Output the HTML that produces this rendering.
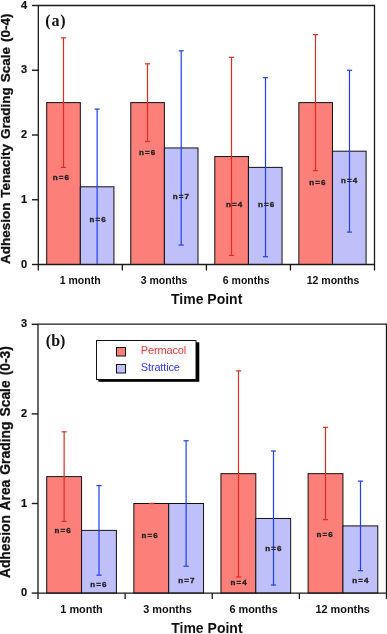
<!DOCTYPE html>
<html><head><meta charset="utf-8"><style>
html,body{margin:0;padding:0;background:#fff;}
body{width:387px;height:634px;overflow:hidden;}
svg{display:block;}
text{font-family:"Liberation Sans",Arial,sans-serif;fill:#111;}
.n{font-size:8px;font-weight:bold;text-anchor:middle;letter-spacing:1.1px;fill:#222;stroke:#222;stroke-width:0.35px;}
.yt{font-size:11px;font-weight:bold;text-anchor:end;stroke:#111;stroke-width:0.2px;}
.xl{font-size:10.2px;font-weight:bold;text-anchor:middle;}
.tt{font-size:14px;font-weight:bold;text-anchor:middle;}
.yti{font-size:13.6px;font-weight:bold;text-anchor:middle;word-spacing:1.2px;stroke:#111;stroke-width:0.3px;}
.pl{font-family:"Liberation Serif","Times New Roman",serif;font-size:16px;font-weight:bold;}
.lg{font-size:11px;letter-spacing:-0.15px;}
</style></head><body>
<svg width="387" height="634" viewBox="0 0 387 634">
<rect x="46.70" y="102.62" width="33.62" height="161.88" fill="#fc8079" stroke="#111" stroke-width="1"/>
<rect x="80.32" y="186.80" width="33.62" height="77.70" fill="#bfbff9" stroke="#111" stroke-width="1"/>
<rect x="130.75" y="102.62" width="33.62" height="161.88" fill="#fc8079" stroke="#111" stroke-width="1"/>
<rect x="164.38" y="147.95" width="33.62" height="116.55" fill="#bfbff9" stroke="#111" stroke-width="1"/>
<rect x="214.80" y="156.56" width="33.62" height="107.94" fill="#fc8079" stroke="#111" stroke-width="1"/>
<rect x="248.42" y="167.38" width="33.62" height="97.12" fill="#bfbff9" stroke="#111" stroke-width="1"/>
<rect x="298.85" y="102.62" width="33.62" height="161.88" fill="#fc8079" stroke="#111" stroke-width="1"/>
<rect x="332.47" y="151.19" width="33.62" height="113.31" fill="#bfbff9" stroke="#111" stroke-width="1"/>
<line x1="63.50" x2="63.50" y1="167.38" y2="37.88" stroke="#e02a22" stroke-width="1.2"/>
<line x1="60.90" x2="66.10" y1="167.38" y2="167.38" stroke="#e02a22" stroke-width="1.2"/>
<line x1="60.90" x2="66.10" y1="37.88" y2="37.88" stroke="#e02a22" stroke-width="1.2"/>
<line x1="97.13" x2="97.13" y1="264.50" y2="109.10" stroke="#2040f0" stroke-width="1.2"/>
<line x1="94.53" x2="99.73" y1="109.10" y2="109.10" stroke="#2040f0" stroke-width="1.2"/>
<line x1="147.50" x2="147.50" y1="141.48" y2="63.78" stroke="#e02a22" stroke-width="1.2"/>
<line x1="144.90" x2="150.10" y1="141.48" y2="141.48" stroke="#e02a22" stroke-width="1.2"/>
<line x1="144.90" x2="150.10" y1="63.78" y2="63.78" stroke="#e02a22" stroke-width="1.2"/>
<line x1="181.19" x2="181.19" y1="245.07" y2="50.83" stroke="#2040f0" stroke-width="1.2"/>
<line x1="178.59" x2="183.78" y1="245.07" y2="245.07" stroke="#2040f0" stroke-width="1.2"/>
<line x1="178.59" x2="183.78" y1="50.83" y2="50.83" stroke="#2040f0" stroke-width="1.2"/>
<line x1="231.50" x2="231.50" y1="255.44" y2="57.30" stroke="#e02a22" stroke-width="1.2"/>
<line x1="228.90" x2="234.10" y1="255.44" y2="255.44" stroke="#e02a22" stroke-width="1.2"/>
<line x1="228.90" x2="234.10" y1="57.30" y2="57.30" stroke="#e02a22" stroke-width="1.2"/>
<line x1="265.50" x2="265.50" y1="256.73" y2="77.70" stroke="#2040f0" stroke-width="1.2"/>
<line x1="262.90" x2="268.10" y1="256.73" y2="256.73" stroke="#2040f0" stroke-width="1.2"/>
<line x1="262.90" x2="268.10" y1="77.70" y2="77.70" stroke="#2040f0" stroke-width="1.2"/>
<line x1="315.50" x2="315.50" y1="170.61" y2="34.64" stroke="#e02a22" stroke-width="1.2"/>
<line x1="312.90" x2="318.10" y1="170.61" y2="170.61" stroke="#e02a22" stroke-width="1.2"/>
<line x1="312.90" x2="318.10" y1="34.64" y2="34.64" stroke="#e02a22" stroke-width="1.2"/>
<line x1="349.50" x2="349.50" y1="232.12" y2="70.25" stroke="#2040f0" stroke-width="1.2"/>
<line x1="346.90" x2="352.10" y1="232.12" y2="232.12" stroke="#2040f0" stroke-width="1.2"/>
<line x1="346.90" x2="352.10" y1="70.25" y2="70.25" stroke="#2040f0" stroke-width="1.2"/>
<text x="61.50" y="179.90" class="n">n=6</text>
<text x="98.20" y="222.20" class="n">n=6</text>
<text x="147.60" y="154.70" class="n">n=6</text>
<text x="181.50" y="198.60" class="n">n=7</text>
<text x="234.60" y="207.30" class="n">n=4</text>
<text x="266.60" y="207.30" class="n">n=6</text>
<text x="318.00" y="184.90" class="n">n=6</text>
<text x="349.60" y="183.40" class="n">n=4</text>
<path d="M38.3 5.5H374.5V264.5H38.3Z" fill="none" stroke="#1a1a1a" stroke-width="1.3"/>
<line x1="31.999999999999996" x2="38.3" y1="264.50" y2="264.50" stroke="#1a1a1a" stroke-width="1.4"/>
<text x="27.2" y="267.50" class="yt">0</text>
<line x1="31.999999999999996" x2="38.3" y1="199.75" y2="199.75" stroke="#1a1a1a" stroke-width="1.4"/>
<text x="27.2" y="202.75" class="yt">1</text>
<line x1="31.999999999999996" x2="38.3" y1="135.00" y2="135.00" stroke="#1a1a1a" stroke-width="1.4"/>
<text x="27.2" y="138.00" class="yt">2</text>
<line x1="31.999999999999996" x2="38.3" y1="70.25" y2="70.25" stroke="#1a1a1a" stroke-width="1.4"/>
<text x="27.2" y="73.25" class="yt">3</text>
<line x1="31.999999999999996" x2="38.3" y1="5.50" y2="5.50" stroke="#1a1a1a" stroke-width="1.4"/>
<text x="27.2" y="8.50" class="yt">4</text>
<line x1="38.30" x2="38.30" y1="264.5" y2="270.5" stroke="#1a1a1a" stroke-width="1.3"/>
<line x1="122.35" x2="122.35" y1="264.5" y2="270.5" stroke="#1a1a1a" stroke-width="1.3"/>
<line x1="206.40" x2="206.40" y1="264.5" y2="270.5" stroke="#1a1a1a" stroke-width="1.3"/>
<line x1="290.45" x2="290.45" y1="264.5" y2="270.5" stroke="#1a1a1a" stroke-width="1.3"/>
<line x1="374.50" x2="374.50" y1="264.5" y2="270.5" stroke="#1a1a1a" stroke-width="1.3"/>
<text x="80.20" y="284.2" class="xl" style="font-size:10.5px">1 month</text>
<text x="164.10" y="284.2" class="xl" style="font-size:10.5px">3 months</text>
<text x="246.20" y="284.2" class="xl" style="font-size:10.5px">6 months</text>
<text x="333.00" y="284.2" class="xl" style="font-size:10.5px">12 months</text>
<text x="206.7" y="304.3" class="tt">Time Point</text>
<text transform="translate(10.3 138.8) rotate(-90)" class="yti" style="font-size:13.5px">Adhesion Tenacity Grading Scale (0-4)</text>
<text x="45.3" y="26.2" class="pl" style="letter-spacing:0.8px">(a)</text>
<rect x="46.71" y="476.62" width="34.85" height="116.48" fill="#fc8079" stroke="#111" stroke-width="1"/>
<rect x="81.56" y="530.38" width="34.85" height="62.72" fill="#bfbff9" stroke="#111" stroke-width="1"/>
<rect x="133.84" y="503.50" width="34.85" height="89.60" fill="#fc8079" stroke="#111" stroke-width="1"/>
<rect x="168.69" y="503.50" width="34.85" height="89.60" fill="#bfbff9" stroke="#111" stroke-width="1"/>
<rect x="220.96" y="473.66" width="34.85" height="119.44" fill="#fc8079" stroke="#111" stroke-width="1"/>
<rect x="255.81" y="518.46" width="34.85" height="74.64" fill="#bfbff9" stroke="#111" stroke-width="1"/>
<rect x="308.09" y="473.66" width="34.85" height="119.44" fill="#fc8079" stroke="#111" stroke-width="1"/>
<rect x="342.94" y="525.90" width="34.85" height="67.20" fill="#bfbff9" stroke="#111" stroke-width="1"/>
<line x1="64.14" x2="64.14" y1="521.42" y2="431.82" stroke="#e02a22" stroke-width="1.2"/>
<line x1="61.54" x2="66.74" y1="521.42" y2="521.42" stroke="#e02a22" stroke-width="1.2"/>
<line x1="61.54" x2="66.74" y1="431.82" y2="431.82" stroke="#e02a22" stroke-width="1.2"/>
<line x1="98.99" x2="98.99" y1="575.18" y2="485.58" stroke="#2040f0" stroke-width="1.2"/>
<line x1="96.39" x2="101.59" y1="575.18" y2="575.18" stroke="#2040f0" stroke-width="1.2"/>
<line x1="96.39" x2="101.59" y1="485.58" y2="485.58" stroke="#2040f0" stroke-width="1.2"/>
<line x1="151.50" x2="151.50" y1="503.50" y2="503.50" stroke="#e02a22" stroke-width="1.2"/>
<line x1="148.90" x2="154.10" y1="503.50" y2="503.50" stroke="#e02a22" stroke-width="1.2"/>
<line x1="148.90" x2="154.10" y1="503.50" y2="503.50" stroke="#e02a22" stroke-width="1.2"/>
<line x1="186.11" x2="186.11" y1="566.22" y2="440.78" stroke="#2040f0" stroke-width="1.2"/>
<line x1="183.51" x2="188.71" y1="566.22" y2="566.22" stroke="#2040f0" stroke-width="1.2"/>
<line x1="183.51" x2="188.71" y1="440.78" y2="440.78" stroke="#2040f0" stroke-width="1.2"/>
<line x1="238.50" x2="238.50" y1="576.97" y2="370.89" stroke="#e02a22" stroke-width="1.2"/>
<line x1="235.90" x2="241.10" y1="576.97" y2="576.97" stroke="#e02a22" stroke-width="1.2"/>
<line x1="235.90" x2="241.10" y1="370.89" y2="370.89" stroke="#e02a22" stroke-width="1.2"/>
<line x1="273.50" x2="273.50" y1="585.04" y2="450.99" stroke="#2040f0" stroke-width="1.2"/>
<line x1="270.90" x2="276.10" y1="585.04" y2="585.04" stroke="#2040f0" stroke-width="1.2"/>
<line x1="270.90" x2="276.10" y1="450.99" y2="450.99" stroke="#2040f0" stroke-width="1.2"/>
<line x1="325.50" x2="325.50" y1="519.63" y2="427.34" stroke="#e02a22" stroke-width="1.2"/>
<line x1="322.90" x2="328.10" y1="519.63" y2="519.63" stroke="#e02a22" stroke-width="1.2"/>
<line x1="322.90" x2="328.10" y1="427.34" y2="427.34" stroke="#e02a22" stroke-width="1.2"/>
<line x1="360.50" x2="360.50" y1="570.70" y2="481.10" stroke="#2040f0" stroke-width="1.2"/>
<line x1="357.90" x2="363.10" y1="570.70" y2="570.70" stroke="#2040f0" stroke-width="1.2"/>
<line x1="357.90" x2="363.10" y1="481.10" y2="481.10" stroke="#2040f0" stroke-width="1.2"/>
<text x="63.10" y="532.70" class="n">n=6</text>
<text x="98.90" y="586.70" class="n">n=6</text>
<text x="150.10" y="537.50" class="n">n=6</text>
<text x="187.00" y="583.00" class="n">n=7</text>
<text x="239.20" y="585.30" class="n">n=4</text>
<text x="273.90" y="550.70" class="n">n=6</text>
<text x="325.20" y="537.40" class="n">n=6</text>
<text x="361.00" y="582.70" class="n">n=4</text>
<path d="M38.0 324.2H386.5V593.1H38.0Z" fill="none" stroke="#1a1a1a" stroke-width="1.3"/>
<line x1="31.7" x2="38.0" y1="593.10" y2="593.10" stroke="#1a1a1a" stroke-width="1.4"/>
<text x="27.2" y="596.10" class="yt">0</text>
<line x1="31.7" x2="38.0" y1="503.50" y2="503.50" stroke="#1a1a1a" stroke-width="1.4"/>
<text x="27.2" y="506.50" class="yt">1</text>
<line x1="31.7" x2="38.0" y1="413.90" y2="413.90" stroke="#1a1a1a" stroke-width="1.4"/>
<text x="27.2" y="416.90" class="yt">2</text>
<line x1="31.7" x2="38.0" y1="324.30" y2="324.30" stroke="#1a1a1a" stroke-width="1.4"/>
<text x="27.2" y="327.30" class="yt">3</text>
<line x1="38.00" x2="38.00" y1="593.1" y2="599.1" stroke="#1a1a1a" stroke-width="1.3"/>
<line x1="125.12" x2="125.12" y1="593.1" y2="599.1" stroke="#1a1a1a" stroke-width="1.3"/>
<line x1="212.25" x2="212.25" y1="593.1" y2="599.1" stroke="#1a1a1a" stroke-width="1.3"/>
<line x1="299.38" x2="299.38" y1="593.1" y2="599.1" stroke="#1a1a1a" stroke-width="1.3"/>
<line x1="386.50" x2="386.50" y1="593.1" y2="599.1" stroke="#1a1a1a" stroke-width="1.3"/>
<text x="81.50" y="612.7" class="xl" style="font-size:10.9px">1 month</text>
<text x="167.50" y="612.7" class="xl" style="font-size:10.9px">3 months</text>
<text x="253.60" y="612.7" class="xl" style="font-size:10.9px">6 months</text>
<text x="342.70" y="612.7" class="xl" style="font-size:10.9px">12 months</text>
<text x="206.9" y="632.6" class="tt">Time Point</text>
<text transform="translate(10.3 462.1) rotate(-90)" class="yti" style="font-size:13.85px">Adhesion Area Grading Scale (0-3)</text>
<text x="45.8" y="345.7" class="pl" style="letter-spacing:0px">(b)</text>

<rect x="98.3" y="342.3" width="101" height="39.5" fill="#000"/>
<rect x="96.5" y="340.5" width="99.5" height="39" fill="#fff" stroke="#111" stroke-width="1"/>
<rect x="116.5" y="347.5" width="9" height="8.5" fill="#fc8079" stroke="#111" stroke-width="1"/>
<rect x="116.5" y="364.5" width="9" height="8.5" fill="#bfbff9" stroke="#111" stroke-width="1"/>
<text x="140.8" y="354.2" class="lg" style="fill:#f53535">Permacol</text>
<text x="140.8" y="371.4" class="lg" style="fill:#3535f2">Strattice</text>

</svg>
</body></html>
